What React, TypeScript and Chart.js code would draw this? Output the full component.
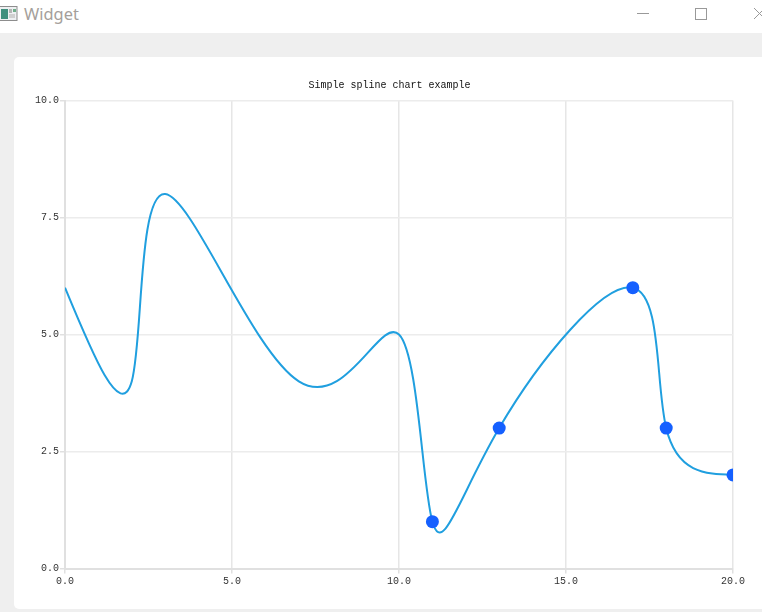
import React, { useEffect, useRef } from "react";
import { Chart, registerables } from "chart.js";

Chart.register(...registerables);

const TITLE = "Simple spline chart example";
const WINDOW_TITLE = "Widget";
const splineX = [0, 2, 3, 7, 10, 11, 13, 17, 18, 20];
const splineY = [6, 4, 8, 4, 5, 1, 3, 6, 3, 2];
const markerX = [11, 13, 17, 18, 20];
const markerY = [1, 3, 6, 3, 2];

const toXY = (xs: number[], ys: number[]) => xs.map((x, i) => ({ x, y: ys[i] }));

// Same Bezier control-point solver as the Qt Charts spline series.
function firstControl(rhs: number[]): number[] {
  const n = rhs.length;
  const out = new Array(n).fill(0);
  const tmp = new Array(n).fill(0);
  let b = 2;
  out[0] = rhs[0] / b;
  for (let i = 1; i < n; i++) {
    tmp[i] = 1 / b;
    b = (i < n - 1 ? 4 : 3.5) - tmp[i];
    out[i] = (rhs[i] - out[i - 1]) / b;
  }
  for (let i = 1; i < n; i++) out[n - i - 1] -= tmp[n - i] * out[n - i];
  return out;
}

function solveAxis(p: number[]) {
  const n = p.length - 1;
  const rhs = new Array(n).fill(0);
  rhs[0] = p[0] + 2 * p[1];
  for (let i = 1; i < n - 1; i++) rhs[i] = 4 * p[i] + 2 * p[i + 1];
  rhs[n - 1] = (8 * p[n - 1] + p[n]) / 2;
  const c1 = firstControl(rhs);
  const c2 = new Array(n).fill(0);
  for (let i = 0; i < n; i++) {
    c2[i] = i < n - 1 ? 2 * p[i + 1] - c1[i + 1] : (p[n] + c1[n - 1]) / 2;
  }
  return { c1, c2 };
}

const splinePlugin = {
  id: "qtSpline",
  afterLayout(chart: any) {
    // The title is centred on the card, not on the plot area.
    if (chart.titleBlock) chart.titleBlock.left = 46;
  },
  beforeDatasetDraw(chart: any, args: any) {
    if (args.index !== 0) return;
    const meta = args.meta;
    const pts = meta.data;
    const sx = solveAxis(pts.map((p: any) => p.x));
    const sy = solveAxis(pts.map((p: any) => p.y));
    pts.forEach((p: any, i: number) => {
      if (i < pts.length - 1) {
        p.cp2x = sx.c1[i];
        p.cp2y = sy.c1[i];
      }
      if (i > 0) {
        p.cp1x = sx.c2[i - 1];
        p.cp1y = sy.c2[i - 1];
      }
    });
    meta.dataset._pointsUpdated = true;
  },
};

const tickFont = { family: "'Liberation Mono', monospace", size: 10 };

export default function App() {
  const ref = useRef<HTMLCanvasElement | null>(null);

  useEffect(() => {
    if (!ref.current) return;
    const chart = new Chart(ref.current, {
      type: "scatter",
      data: {
        datasets: [
          {
            data: toXY(splineX, splineY),
            showLine: true,
            tension: 0.4,
            borderColor: "#209fdf",
            borderWidth: 2,
            pointRadius: 0,
            clip: 0,
            order: 2,
          },
          {
            data: toXY(markerX, markerY),
            showLine: false,
            pointRadius: 6.5,
            pointBackgroundColor: "#1560ff",
            pointBorderWidth: 0,
            clip: 0,
            order: 1,
          },
        ],
      } as any,
      options: {
        responsive: false,
        animation: false,
        layout: { padding: { left: 0, right: 29, top: 79.5, bottom: 11.5 } },
        plugins: {
          legend: { display: false },
          tooltip: { enabled: false },
          title: {
            display: true,
            text: TITLE,
            color: "#111111",
            font: { ...tickFont, weight: "normal" },
            padding: { top: 0, bottom: 9 },
          },
        },
        scales: {
          x: {
            type: "linear",
            min: 0,
            max: 20,
            afterFit: (s: any) => {
              s.height = 32;
            },
            ticks: {
              stepSize: 5,
              autoSkip: false,
              maxRotation: 0,
              padding: 2,
              color: "#333333",
              font: tickFont,
              callback: (v: any) => Number(v).toFixed(1),
            },
            grid: { color: "#e6e6e6", lineWidth: 1.5, tickLength: 5, tickColor: "#e0e0e0" },
            border: { color: "#e0e0e0", width: 2 },
          },
          y: {
            min: 0,
            max: 10,
            afterFit: (s: any) => {
              s.width = 65;
            },
            ticks: {
              stepSize: 2.5,
              autoSkip: false,
              padding: 1,
              color: "#333333",
              font: tickFont,
              callback: (v: any) => Number(v).toFixed(1),
            },
            grid: { color: "#ececec", lineWidth: 1.5, tickLength: 5, tickColor: "#e0e0e0" },
            border: { color: "#e0e0e0", width: 2 },
          },
        },
      } as any,
      plugins: [splinePlugin],
    });
    return () => chart.destroy();
  }, []);

  return (
    <div style={{ position: "fixed", left: 0, top: 0, width: 762, height: 612, background: "#efefef", overflow: "hidden" }}>
      <div style={{ position: "absolute", left: 0, top: 0, width: 762, height: 33, background: "#ffffff" }} />
      <div style={{ position: "absolute", left: 14, top: 57, width: 760, height: 552, background: "#ffffff", borderRadius: 5 }} />
      <svg width={762} height={33} style={{ position: "absolute", left: 0, top: 0 }}>
        <rect x={-1} y={6.5} width={18} height={14} fill="#eef0f2" stroke="#8d8d8d" />
        <rect x={1} y={9} width={7} height={10} fill="#3f8f7d" />
        <rect x={9} y={9} width={3} height={4} fill="#b5b5b5" />
        <rect x={13} y={9} width={3} height={3} fill="#6fae8a" />
        <rect x={9} y={14} width={6} height={4} fill="#d0d0d0" />
        <line x1={637} y1={13.5} x2={649} y2={13.5} stroke="#999999" />
        <rect x={695.5} y={8.5} width={11} height={11} fill="none" stroke="#999999" />
        <line x1={754} y1={8} x2={765} y2={19} stroke="#999999" />
        <line x1={765} y1={8} x2={754} y2={19} stroke="#999999" />
      </svg>
      <div style={{ position: "absolute", left: 24, top: 2, fontFamily: "'Noto Sans', sans-serif", fontSize: 16.4, lineHeight: "24px", color: "#a59f9b" }}>
        {WINDOW_TITLE}
      </div>
      <canvas ref={ref} width={762} height={612} style={{ position: "absolute", left: 0, top: 0, display: "block" }} />
    </div>
  );
}
